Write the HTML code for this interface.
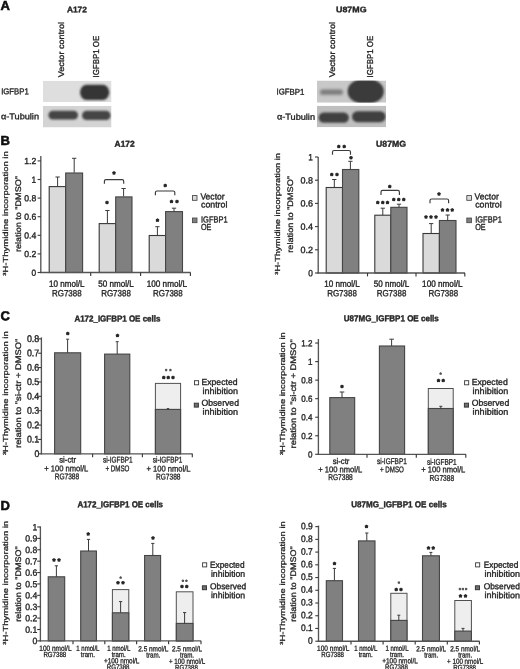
<!DOCTYPE html>
<html lang="en"><head><meta charset="utf-8"><title>Figure</title>
<style>
html,body{margin:0;padding:0;background:#fff;}
body{width:520px;height:669px;overflow:hidden;}
svg{display:block;font-family:"Liberation Sans", sans-serif;}
</style></head><body>
<svg width="520" height="669" viewBox="0 0 520 669" text-rendering="geometricPrecision">
<defs>
<filter id="b1" x="-20%" y="-40%" width="140%" height="180%"><feGaussianBlur stdDeviation="1"/></filter>
<filter id="b2" x="-20%" y="-60%" width="140%" height="220%"><feGaussianBlur stdDeviation="1.6"/></filter>
<filter id="soft"><feGaussianBlur stdDeviation="0.42"/></filter>
<clipPath id="cA1"><rect x="43" y="80.7" width="68.5" height="21.3"/></clipPath>
<clipPath id="cA2"><rect x="43" y="106" width="68.5" height="21.5"/></clipPath>
<clipPath id="cA3"><rect x="317" y="80.5" width="69" height="22.2"/></clipPath>
<clipPath id="cA4"><rect x="317" y="105.7" width="69" height="21.6"/></clipPath>
</defs>
<rect width="520" height="669" fill="#ffffff"/>
<g filter="url(#soft)">
<text transform="translate(0.50,9.95) rotate(0.1)" font-size="13.0" text-anchor="start" fill="#111" font-weight="bold" stroke="#111" stroke-width="0.58">A</text>
<text transform="translate(0.50,144.95) rotate(0.1)" font-size="13.0" text-anchor="start" fill="#111" font-weight="bold" stroke="#111" stroke-width="0.58">B</text>
<text transform="translate(0.50,320.35) rotate(0.1)" font-size="13.0" text-anchor="start" fill="#111" font-weight="bold" stroke="#111" stroke-width="0.58">C</text>
<text transform="translate(0.50,509.95) rotate(0.1)" font-size="13.0" text-anchor="start" fill="#111" font-weight="bold" stroke="#111" stroke-width="0.58">D</text>
<text transform="translate(76.90,12.16) rotate(0.1)" font-size="8.0" text-anchor="middle" fill="#262626" font-weight="bold" stroke="#262626" stroke-width="0.36" textLength="20" lengthAdjust="spacingAndGlyphs">A172</text>
<text transform="translate(61.50,49.60) rotate(-90)" x="0" y="2.94" font-size="8.2" text-anchor="middle" fill="#262626" stroke="#262626" stroke-width="0.33" textLength="55.3" lengthAdjust="spacingAndGlyphs">Vector control</text>
<text transform="translate(96.00,56.60) rotate(-90)" x="0" y="3.08" font-size="8.6" text-anchor="middle" fill="#262626" stroke="#262626" stroke-width="0.34" textLength="41.8" lengthAdjust="spacingAndGlyphs">IGFBP1 OE</text>
<g clip-path="url(#cA1)">
<rect x="43" y="80.7" width="68.5" height="21.299999999999997" fill="#dedede"/>
<rect x="80" y="84.7" width="29.30" height="15.20" rx="6.5" ry="7.60" fill="#363636" filter="url(#b1)"/>
</g>
<g clip-path="url(#cA2)">
<rect x="43" y="106" width="68.5" height="21.5" fill="#d4d4d4"/>
<rect x="48.4" y="110.8" width="29.60" height="8.60" rx="4.300000000000004" ry="4.30" fill="#444" filter="url(#b1)"/>
<rect x="82" y="110.8" width="28.60" height="9.20" rx="4.600000000000001" ry="4.60" fill="#444" filter="url(#b1)"/>
</g>
<text transform="translate(1.20,94.31) rotate(0.1)" font-size="8.4" text-anchor="start" fill="#262626" stroke="#262626" stroke-width="0.34" textLength="27.5" lengthAdjust="spacingAndGlyphs">IGFBP1</text>
<text transform="translate(1.00,119.31) rotate(0.1)" font-size="8.4" text-anchor="start" fill="#262626" stroke="#262626" stroke-width="0.34" textLength="38" lengthAdjust="spacingAndGlyphs">α-Tubulin</text>
<text transform="translate(351.30,12.16) rotate(0.1)" font-size="8.0" text-anchor="middle" fill="#262626" font-weight="bold" stroke="#262626" stroke-width="0.36" textLength="30.5" lengthAdjust="spacingAndGlyphs">U87MG</text>
<text transform="translate(332.20,49.60) rotate(-90)" x="0" y="2.94" font-size="8.2" text-anchor="middle" fill="#262626" stroke="#262626" stroke-width="0.33" textLength="55.3" lengthAdjust="spacingAndGlyphs">Vector control</text>
<text transform="translate(369.80,56.60) rotate(-90)" x="0" y="3.08" font-size="8.6" text-anchor="middle" fill="#262626" stroke="#262626" stroke-width="0.34" textLength="41.8" lengthAdjust="spacingAndGlyphs">IGFBP1 OE</text>
<g clip-path="url(#cA3)">
<rect x="317" y="80.5" width="69" height="22.200000000000003" fill="#c8c8c8"/>
<rect x="320" y="89.6" width="23.00" height="5.20" rx="2.6000000000000014" ry="2.60" fill="#7a7a7a" filter="url(#b2)"/>
<rect x="347.6" y="79.6" width="36.20" height="23.60" rx="14" ry="11.80" fill="#3a3a3a" filter="url(#b1)"/>
</g>
<g clip-path="url(#cA4)">
<rect x="317" y="105.7" width="69" height="21.599999999999994" fill="#bfbfbf"/>
<rect x="318.6" y="112.5" width="30.30" height="10.30" rx="5.149999999999999" ry="5.15" fill="#404040" filter="url(#b1)"/>
<rect x="352" y="111.2" width="33.60" height="11.00" rx="5.5" ry="5.50" fill="#404040" filter="url(#b1)"/>
</g>
<text transform="translate(276.50,94.61) rotate(0.1)" font-size="8.4" text-anchor="start" fill="#262626" stroke="#262626" stroke-width="0.34" textLength="28" lengthAdjust="spacingAndGlyphs">IGFBP1</text>
<text transform="translate(277.00,119.61) rotate(0.1)" font-size="8.4" text-anchor="start" fill="#262626" stroke="#262626" stroke-width="0.34" textLength="38" lengthAdjust="spacingAndGlyphs">α-Tubulin</text>
<text transform="translate(124.60,146.68) rotate(0.1)" font-size="8.6" text-anchor="middle" fill="#262626" font-weight="bold" stroke="#262626" stroke-width="0.39" textLength="20" lengthAdjust="spacingAndGlyphs">A172</text>
<rect x="49.20" y="186.60" width="16.50" height="85.90" fill="#dadada" stroke="#383838" stroke-width="1.1"/>
<rect x="65.70" y="173.00" width="16.90" height="99.50" fill="#808080" stroke="#444444" stroke-width="1.1"/>
<rect x="99.20" y="223.60" width="16.50" height="48.90" fill="#dadada" stroke="#383838" stroke-width="1.1"/>
<rect x="115.70" y="196.90" width="16.30" height="75.60" fill="#808080" stroke="#444444" stroke-width="1.1"/>
<rect x="149.20" y="235.50" width="16.40" height="37.00" fill="#dadada" stroke="#383838" stroke-width="1.1"/>
<rect x="165.60" y="211.60" width="16.90" height="60.90" fill="#808080" stroke="#444444" stroke-width="1.1"/>
<line x1="57.60" y1="186.20" x2="57.60" y2="177.00" stroke="#3a3a3a" stroke-width="1.0"/>
<line x1="55.45" y1="177.00" x2="59.75" y2="177.00" stroke="#3a3a3a" stroke-width="1.0"/>
<line x1="74.20" y1="172.60" x2="74.20" y2="158.30" stroke="#3a3a3a" stroke-width="1.0"/>
<line x1="72.05" y1="158.30" x2="76.35" y2="158.30" stroke="#3a3a3a" stroke-width="1.0"/>
<line x1="107.40" y1="223.00" x2="107.40" y2="210.50" stroke="#3a3a3a" stroke-width="1.0"/>
<line x1="105.25" y1="210.50" x2="109.55" y2="210.50" stroke="#3a3a3a" stroke-width="1.0"/>
<line x1="123.60" y1="196.40" x2="123.60" y2="188.50" stroke="#3a3a3a" stroke-width="1.0"/>
<line x1="121.45" y1="188.50" x2="125.75" y2="188.50" stroke="#3a3a3a" stroke-width="1.0"/>
<line x1="157.40" y1="235.00" x2="157.40" y2="226.70" stroke="#3a3a3a" stroke-width="1.0"/>
<line x1="155.25" y1="226.70" x2="159.55" y2="226.70" stroke="#3a3a3a" stroke-width="1.0"/>
<line x1="174.00" y1="211.00" x2="174.00" y2="208.20" stroke="#3a3a3a" stroke-width="1.0"/>
<line x1="171.85" y1="208.20" x2="176.15" y2="208.20" stroke="#3a3a3a" stroke-width="1.0"/>
<line x1="40.80" y1="156.00" x2="40.80" y2="273.10" stroke="#555555" stroke-width="1.35"/>
<line x1="40.20" y1="272.50" x2="190.60" y2="272.50" stroke="#555555" stroke-width="1.35"/>
<line x1="37.60" y1="272.50" x2="40.80" y2="272.50" stroke="#3a3a3a" stroke-width="1.1"/>
<text transform="translate(36.20,275.65) rotate(0.1)" font-size="8.8" text-anchor="end" fill="#262626" stroke="#262626" stroke-width="0.35" textLength="4.6" lengthAdjust="spacingAndGlyphs">0</text>
<line x1="37.60" y1="253.90" x2="40.80" y2="253.90" stroke="#3a3a3a" stroke-width="1.1"/>
<text transform="translate(36.20,257.05) rotate(0.1)" font-size="8.8" text-anchor="end" fill="#262626" stroke="#262626" stroke-width="0.35" textLength="12.0" lengthAdjust="spacingAndGlyphs">0.2</text>
<line x1="37.60" y1="235.30" x2="40.80" y2="235.30" stroke="#3a3a3a" stroke-width="1.1"/>
<text transform="translate(36.20,238.45) rotate(0.1)" font-size="8.8" text-anchor="end" fill="#262626" stroke="#262626" stroke-width="0.35" textLength="12.0" lengthAdjust="spacingAndGlyphs">0.4</text>
<line x1="37.60" y1="216.70" x2="40.80" y2="216.70" stroke="#3a3a3a" stroke-width="1.1"/>
<text transform="translate(36.20,219.85) rotate(0.1)" font-size="8.8" text-anchor="end" fill="#262626" stroke="#262626" stroke-width="0.35" textLength="12.0" lengthAdjust="spacingAndGlyphs">0.6</text>
<line x1="37.60" y1="198.10" x2="40.80" y2="198.10" stroke="#3a3a3a" stroke-width="1.1"/>
<text transform="translate(36.20,201.25) rotate(0.1)" font-size="8.8" text-anchor="end" fill="#262626" stroke="#262626" stroke-width="0.35" textLength="12.0" lengthAdjust="spacingAndGlyphs">0.8</text>
<line x1="37.60" y1="179.50" x2="40.80" y2="179.50" stroke="#3a3a3a" stroke-width="1.1"/>
<text transform="translate(36.20,182.65) rotate(0.1)" font-size="8.8" text-anchor="end" fill="#262626" stroke="#262626" stroke-width="0.35" textLength="4.6" lengthAdjust="spacingAndGlyphs">1</text>
<line x1="37.60" y1="160.90" x2="40.80" y2="160.90" stroke="#3a3a3a" stroke-width="1.1"/>
<text transform="translate(36.20,164.05) rotate(0.1)" font-size="8.8" text-anchor="end" fill="#262626" stroke="#262626" stroke-width="0.35" textLength="12.0" lengthAdjust="spacingAndGlyphs">1.2</text>
<line x1="90.70" y1="272.50" x2="90.70" y2="275.90" stroke="#3a3a3a" stroke-width="1.15"/>
<line x1="140.60" y1="272.50" x2="140.60" y2="275.90" stroke="#3a3a3a" stroke-width="1.15"/>
<line x1="190.40" y1="272.50" x2="190.40" y2="275.90" stroke="#3a3a3a" stroke-width="1.15"/>
<text transform="translate(5.40,213.50) rotate(-90)" x="0" y="2.61" font-size="7.3" text-anchor="middle" fill="#262626" stroke="#262626" stroke-width="0.29" textLength="124.4" lengthAdjust="spacingAndGlyphs">³H-Thymidine incorporation in</text>
<text transform="translate(18.00,214.00) rotate(-90)" x="0" y="2.90" font-size="8.1" text-anchor="middle" fill="#262626" stroke="#262626" stroke-width="0.32" textLength="76" lengthAdjust="spacingAndGlyphs">relation to "DMSO"</text>
<text transform="translate(107.00,206.15) rotate(0.1)" font-size="7.6" text-anchor="middle" font-weight="bold" fill="#262626" stroke="#262626" stroke-width="0.76" stroke-linejoin="round">*</text>
<text transform="translate(113.90,176.85) rotate(0.1)" font-size="7.6" text-anchor="middle" font-weight="bold" fill="#262626" stroke="#262626" stroke-width="0.76" stroke-linejoin="round">*</text>
<path d="M104.40,183.80 V181.20 Q104.40,179.60 106.00,179.60 H122.10 Q123.70,179.60 123.70,181.20 V183.80" fill="none" stroke="#3a3a3a" stroke-width="1.15"/>
<text transform="translate(157.50,223.95) rotate(0.1)" font-size="7.6" text-anchor="middle" font-weight="bold" fill="#262626" stroke="#262626" stroke-width="0.76" stroke-linejoin="round">*</text>
<text transform="translate(171.40,205.35) rotate(0.1)" font-size="7.6" text-anchor="middle" font-weight="bold" fill="#262626" stroke="#262626" stroke-width="0.76" stroke-linejoin="round">*</text>
<text transform="translate(177.00,205.35) rotate(0.1)" font-size="7.6" text-anchor="middle" font-weight="bold" fill="#262626" stroke="#262626" stroke-width="0.76" stroke-linejoin="round">*</text>
<path d="M155.40,195.20 V192.60 Q155.40,191.00 157.00,191.00 H173.20 Q174.80,191.00 174.80,192.60 V195.20" fill="none" stroke="#3a3a3a" stroke-width="1.15"/>
<text transform="translate(165.20,189.35) rotate(0.1)" font-size="7.6" text-anchor="middle" font-weight="bold" fill="#262626" stroke="#262626" stroke-width="0.76" stroke-linejoin="round">*</text>
<text transform="translate(66.80,286.72) rotate(0.1)" font-size="9.0" text-anchor="middle" fill="#262626" stroke="#262626" stroke-width="0.36" textLength="35.4" lengthAdjust="spacingAndGlyphs">10 nmol/L</text>
<text transform="translate(66.80,296.32) rotate(0.1)" font-size="9.0" text-anchor="middle" fill="#262626" stroke="#262626" stroke-width="0.36" textLength="29.6" lengthAdjust="spacingAndGlyphs">RG7388</text>
<text transform="translate(116.00,286.72) rotate(0.1)" font-size="9.0" text-anchor="middle" fill="#262626" stroke="#262626" stroke-width="0.36" textLength="35.4" lengthAdjust="spacingAndGlyphs">50 nmol/L</text>
<text transform="translate(116.00,296.32) rotate(0.1)" font-size="9.0" text-anchor="middle" fill="#262626" stroke="#262626" stroke-width="0.36" textLength="29.6" lengthAdjust="spacingAndGlyphs">RG7388</text>
<text transform="translate(166.90,286.72) rotate(0.1)" font-size="9.0" text-anchor="middle" fill="#262626" stroke="#262626" stroke-width="0.36" textLength="40.4" lengthAdjust="spacingAndGlyphs">100 nmol/L</text>
<text transform="translate(167.90,296.32) rotate(0.1)" font-size="9.0" text-anchor="middle" fill="#262626" stroke="#262626" stroke-width="0.36" textLength="29.6" lengthAdjust="spacingAndGlyphs">RG7388</text>
<rect x="192.40" y="195.60" width="4.60" height="4.70" fill="#dadada" stroke="#383838" stroke-width="0.8"/>
<text transform="translate(200.40,199.55) rotate(0.1)" font-size="8.8" text-anchor="start" fill="#262626" stroke="#262626" stroke-width="0.35" textLength="24.2" lengthAdjust="spacingAndGlyphs">Vector</text>
<text transform="translate(201.00,207.45) rotate(0.1)" font-size="8.8" text-anchor="start" fill="#262626" stroke="#262626" stroke-width="0.35" textLength="26.4" lengthAdjust="spacingAndGlyphs">control</text>
<rect x="192.40" y="218.00" width="4.60" height="4.70" fill="#808080" stroke="#444444" stroke-width="0.8"/>
<text transform="translate(201.00,222.55) rotate(0.1)" font-size="8.8" text-anchor="start" fill="#262626" stroke="#262626" stroke-width="0.35" textLength="26.6" lengthAdjust="spacingAndGlyphs">IGFBP1</text>
<text transform="translate(201.00,230.05) rotate(0.1)" font-size="8.8" text-anchor="start" fill="#262626" stroke="#262626" stroke-width="0.35" textLength="10.4" lengthAdjust="spacingAndGlyphs">OE</text>
<text transform="translate(391.00,146.68) rotate(0.1)" font-size="8.6" text-anchor="middle" fill="#262626" font-weight="bold" stroke="#262626" stroke-width="0.39" textLength="30" lengthAdjust="spacingAndGlyphs">U87MG</text>
<rect x="326.20" y="187.50" width="16.30" height="85.50" fill="#dadada" stroke="#383838" stroke-width="1.1"/>
<rect x="342.50" y="169.50" width="16.30" height="103.50" fill="#808080" stroke="#444444" stroke-width="1.1"/>
<rect x="374.80" y="215.20" width="16.00" height="57.80" fill="#dadada" stroke="#383838" stroke-width="1.1"/>
<rect x="390.80" y="207.30" width="16.20" height="65.70" fill="#808080" stroke="#444444" stroke-width="1.1"/>
<rect x="423.00" y="233.50" width="16.40" height="39.50" fill="#dadada" stroke="#383838" stroke-width="1.1"/>
<rect x="439.40" y="220.50" width="16.60" height="52.50" fill="#808080" stroke="#444444" stroke-width="1.1"/>
<line x1="334.30" y1="187.50" x2="334.30" y2="179.50" stroke="#3a3a3a" stroke-width="1.0"/>
<line x1="332.15" y1="179.50" x2="336.45" y2="179.50" stroke="#3a3a3a" stroke-width="1.0"/>
<line x1="350.40" y1="169.50" x2="350.40" y2="161.30" stroke="#3a3a3a" stroke-width="1.0"/>
<line x1="348.25" y1="161.30" x2="352.55" y2="161.30" stroke="#3a3a3a" stroke-width="1.0"/>
<line x1="382.80" y1="215.20" x2="382.80" y2="208.20" stroke="#3a3a3a" stroke-width="1.0"/>
<line x1="380.65" y1="208.20" x2="384.95" y2="208.20" stroke="#3a3a3a" stroke-width="1.0"/>
<line x1="399.00" y1="207.30" x2="399.00" y2="204.20" stroke="#3a3a3a" stroke-width="1.0"/>
<line x1="396.85" y1="204.20" x2="401.15" y2="204.20" stroke="#3a3a3a" stroke-width="1.0"/>
<line x1="431.20" y1="233.50" x2="431.20" y2="223.60" stroke="#3a3a3a" stroke-width="1.0"/>
<line x1="429.05" y1="223.60" x2="433.35" y2="223.60" stroke="#3a3a3a" stroke-width="1.0"/>
<line x1="447.70" y1="220.50" x2="447.70" y2="215.00" stroke="#3a3a3a" stroke-width="1.0"/>
<line x1="445.55" y1="215.00" x2="449.85" y2="215.00" stroke="#3a3a3a" stroke-width="1.0"/>
<line x1="318.20" y1="157.00" x2="318.20" y2="273.60" stroke="#555555" stroke-width="1.35"/>
<line x1="317.60" y1="273.00" x2="465.00" y2="273.00" stroke="#555555" stroke-width="1.35"/>
<line x1="315.00" y1="273.00" x2="318.20" y2="273.00" stroke="#3a3a3a" stroke-width="1.1"/>
<text transform="translate(312.90,276.22) rotate(0.1)" font-size="9.0" text-anchor="end" fill="#262626" stroke="#262626" stroke-width="0.36" textLength="4.6" lengthAdjust="spacingAndGlyphs">0</text>
<line x1="315.00" y1="249.80" x2="318.20" y2="249.80" stroke="#3a3a3a" stroke-width="1.1"/>
<text transform="translate(312.90,253.02) rotate(0.1)" font-size="9.0" text-anchor="end" fill="#262626" stroke="#262626" stroke-width="0.36" textLength="12.5" lengthAdjust="spacingAndGlyphs">0.2</text>
<line x1="315.00" y1="226.60" x2="318.20" y2="226.60" stroke="#3a3a3a" stroke-width="1.1"/>
<text transform="translate(312.90,229.82) rotate(0.1)" font-size="9.0" text-anchor="end" fill="#262626" stroke="#262626" stroke-width="0.36" textLength="12.5" lengthAdjust="spacingAndGlyphs">0.4</text>
<line x1="315.00" y1="203.40" x2="318.20" y2="203.40" stroke="#3a3a3a" stroke-width="1.1"/>
<text transform="translate(312.90,206.62) rotate(0.1)" font-size="9.0" text-anchor="end" fill="#262626" stroke="#262626" stroke-width="0.36" textLength="12.5" lengthAdjust="spacingAndGlyphs">0.6</text>
<line x1="315.00" y1="180.20" x2="318.20" y2="180.20" stroke="#3a3a3a" stroke-width="1.1"/>
<text transform="translate(312.90,183.42) rotate(0.1)" font-size="9.0" text-anchor="end" fill="#262626" stroke="#262626" stroke-width="0.36" textLength="12.5" lengthAdjust="spacingAndGlyphs">0.8</text>
<line x1="315.00" y1="157.00" x2="318.20" y2="157.00" stroke="#3a3a3a" stroke-width="1.1"/>
<text transform="translate(312.90,160.22) rotate(0.1)" font-size="9.0" text-anchor="end" fill="#262626" stroke="#262626" stroke-width="0.36" textLength="4.6" lengthAdjust="spacingAndGlyphs">1</text>
<line x1="367.50" y1="273.00" x2="367.50" y2="276.40" stroke="#3a3a3a" stroke-width="1.15"/>
<line x1="416.00" y1="273.00" x2="416.00" y2="276.40" stroke="#3a3a3a" stroke-width="1.15"/>
<line x1="464.80" y1="273.00" x2="464.80" y2="276.40" stroke="#3a3a3a" stroke-width="1.15"/>
<text transform="translate(277.50,213.85) rotate(-90)" x="0" y="2.61" font-size="7.3" text-anchor="middle" fill="#262626" stroke="#262626" stroke-width="0.29" textLength="121.7" lengthAdjust="spacingAndGlyphs">³H-Thymidine incorporation in</text>
<text transform="translate(289.90,214.35) rotate(-90)" x="0" y="2.90" font-size="8.1" text-anchor="middle" fill="#262626" stroke="#262626" stroke-width="0.32" textLength="76.7" lengthAdjust="spacingAndGlyphs">relation to "DMSO"</text>
<text transform="translate(331.80,178.35) rotate(0.1)" font-size="7.6" text-anchor="middle" font-weight="bold" fill="#262626" stroke="#262626" stroke-width="0.76" stroke-linejoin="round">*</text>
<text transform="translate(337.00,178.35) rotate(0.1)" font-size="7.6" text-anchor="middle" font-weight="bold" fill="#262626" stroke="#262626" stroke-width="0.76" stroke-linejoin="round">*</text>
<text transform="translate(351.00,161.55) rotate(0.1)" font-size="7.6" text-anchor="middle" font-weight="bold" fill="#262626" stroke="#262626" stroke-width="0.76" stroke-linejoin="round">*</text>
<path d="M332.50,154.70 V152.10 Q332.50,150.50 334.10,150.50 H348.90 Q350.50,150.50 350.50,152.10 V154.70" fill="none" stroke="#3a3a3a" stroke-width="1.15"/>
<text transform="translate(338.80,150.35) rotate(0.1)" font-size="7.6" text-anchor="middle" font-weight="bold" fill="#262626" stroke="#262626" stroke-width="0.76" stroke-linejoin="round">*</text>
<text transform="translate(344.20,150.35) rotate(0.1)" font-size="7.6" text-anchor="middle" font-weight="bold" fill="#262626" stroke="#262626" stroke-width="0.76" stroke-linejoin="round">*</text>
<text transform="translate(377.70,206.25) rotate(0.1)" font-size="7.6" text-anchor="middle" font-weight="bold" fill="#262626" stroke="#262626" stroke-width="0.76" stroke-linejoin="round">*</text>
<text transform="translate(382.70,206.25) rotate(0.1)" font-size="7.6" text-anchor="middle" font-weight="bold" fill="#262626" stroke="#262626" stroke-width="0.76" stroke-linejoin="round">*</text>
<text transform="translate(387.60,206.25) rotate(0.1)" font-size="7.6" text-anchor="middle" font-weight="bold" fill="#262626" stroke="#262626" stroke-width="0.76" stroke-linejoin="round">*</text>
<text transform="translate(393.80,203.35) rotate(0.1)" font-size="7.6" text-anchor="middle" font-weight="bold" fill="#262626" stroke="#262626" stroke-width="0.76" stroke-linejoin="round">*</text>
<text transform="translate(398.80,203.35) rotate(0.1)" font-size="7.6" text-anchor="middle" font-weight="bold" fill="#262626" stroke="#262626" stroke-width="0.76" stroke-linejoin="round">*</text>
<text transform="translate(403.70,203.35) rotate(0.1)" font-size="7.6" text-anchor="middle" font-weight="bold" fill="#262626" stroke="#262626" stroke-width="0.76" stroke-linejoin="round">*</text>
<path d="M381.00,195.00 V192.00 Q381.00,190.40 382.60,190.40 H397.80 Q399.40,190.40 399.40,192.00 V195.00" fill="none" stroke="#3a3a3a" stroke-width="1.15"/>
<text transform="translate(389.80,190.15) rotate(0.1)" font-size="7.6" text-anchor="middle" font-weight="bold" fill="#262626" stroke="#262626" stroke-width="0.76" stroke-linejoin="round">*</text>
<text transform="translate(426.00,220.85) rotate(0.1)" font-size="7.6" text-anchor="middle" font-weight="bold" fill="#262626" stroke="#262626" stroke-width="0.76" stroke-linejoin="round">*</text>
<text transform="translate(431.00,220.85) rotate(0.1)" font-size="7.6" text-anchor="middle" font-weight="bold" fill="#262626" stroke="#262626" stroke-width="0.76" stroke-linejoin="round">*</text>
<text transform="translate(436.00,220.85) rotate(0.1)" font-size="7.6" text-anchor="middle" font-weight="bold" fill="#262626" stroke="#262626" stroke-width="0.76" stroke-linejoin="round">*</text>
<text transform="translate(442.50,213.85) rotate(0.1)" font-size="7.6" text-anchor="middle" font-weight="bold" fill="#262626" stroke="#262626" stroke-width="0.76" stroke-linejoin="round">*</text>
<text transform="translate(447.40,213.85) rotate(0.1)" font-size="7.6" text-anchor="middle" font-weight="bold" fill="#262626" stroke="#262626" stroke-width="0.76" stroke-linejoin="round">*</text>
<text transform="translate(452.30,213.85) rotate(0.1)" font-size="7.6" text-anchor="middle" font-weight="bold" fill="#262626" stroke="#262626" stroke-width="0.76" stroke-linejoin="round">*</text>
<path d="M430.00,203.30 V200.60 Q430.00,199.00 431.60,199.00 H447.00 Q448.60,199.00 448.60,200.60 V203.30" fill="none" stroke="#3a3a3a" stroke-width="1.15"/>
<text transform="translate(439.00,197.85) rotate(0.1)" font-size="7.6" text-anchor="middle" font-weight="bold" fill="#262626" stroke="#262626" stroke-width="0.76" stroke-linejoin="round">*</text>
<text transform="translate(342.00,286.72) rotate(0.1)" font-size="9.0" text-anchor="middle" fill="#262626" stroke="#262626" stroke-width="0.36" textLength="35.4" lengthAdjust="spacingAndGlyphs">10 nmol/L</text>
<text transform="translate(342.00,296.32) rotate(0.1)" font-size="9.0" text-anchor="middle" fill="#262626" stroke="#262626" stroke-width="0.36" textLength="29.6" lengthAdjust="spacingAndGlyphs">RG7388</text>
<text transform="translate(391.50,286.72) rotate(0.1)" font-size="9.0" text-anchor="middle" fill="#262626" stroke="#262626" stroke-width="0.36" textLength="35.4" lengthAdjust="spacingAndGlyphs">50 nmol/L</text>
<text transform="translate(391.50,296.32) rotate(0.1)" font-size="9.0" text-anchor="middle" fill="#262626" stroke="#262626" stroke-width="0.36" textLength="29.6" lengthAdjust="spacingAndGlyphs">RG7388</text>
<text transform="translate(442.30,286.72) rotate(0.1)" font-size="9.0" text-anchor="middle" fill="#262626" stroke="#262626" stroke-width="0.36" textLength="40.4" lengthAdjust="spacingAndGlyphs">100 nmol/L</text>
<text transform="translate(443.30,296.32) rotate(0.1)" font-size="9.0" text-anchor="middle" fill="#262626" stroke="#262626" stroke-width="0.36" textLength="29.6" lengthAdjust="spacingAndGlyphs">RG7388</text>
<rect x="466.80" y="195.60" width="4.60" height="4.70" fill="#dadada" stroke="#383838" stroke-width="0.8"/>
<text transform="translate(474.60,199.55) rotate(0.1)" font-size="8.8" text-anchor="start" fill="#262626" stroke="#262626" stroke-width="0.35" textLength="24.2" lengthAdjust="spacingAndGlyphs">Vector</text>
<text transform="translate(475.20,207.45) rotate(0.1)" font-size="8.8" text-anchor="start" fill="#262626" stroke="#262626" stroke-width="0.35" textLength="26.4" lengthAdjust="spacingAndGlyphs">control</text>
<rect x="466.80" y="218.00" width="4.60" height="4.70" fill="#808080" stroke="#444444" stroke-width="0.8"/>
<text transform="translate(475.20,222.55) rotate(0.1)" font-size="8.8" text-anchor="start" fill="#262626" stroke="#262626" stroke-width="0.35" textLength="26.6" lengthAdjust="spacingAndGlyphs">IGFBP1</text>
<text transform="translate(475.20,230.05) rotate(0.1)" font-size="8.8" text-anchor="start" fill="#262626" stroke="#262626" stroke-width="0.35" textLength="10.4" lengthAdjust="spacingAndGlyphs">OE</text>
<text transform="translate(117.40,321.48) rotate(0.1)" font-size="8.6" text-anchor="middle" fill="#262626" font-weight="bold" stroke="#262626" stroke-width="0.39" textLength="86" lengthAdjust="spacingAndGlyphs">A172_IGFBP1 OE cells</text>
<rect x="54.60" y="352.80" width="26.10" height="101.00" fill="#808080" stroke="#444444" stroke-width="1.1"/>
<rect x="104.60" y="354.10" width="25.20" height="99.70" fill="#808080" stroke="#444444" stroke-width="1.1"/>
<rect x="155.40" y="383.40" width="25.20" height="70.40" fill="#eeeeee" stroke="#505050" stroke-width="1.0"/>
<rect x="155.40" y="409.40" width="25.20" height="44.40" fill="#808080" stroke="#444444" stroke-width="1.1"/>
<line x1="67.60" y1="352.80" x2="67.60" y2="339.20" stroke="#3a3a3a" stroke-width="1.0"/>
<line x1="66.10" y1="339.20" x2="69.10" y2="339.20" stroke="#3a3a3a" stroke-width="1.0"/>
<line x1="117.20" y1="354.10" x2="117.20" y2="341.70" stroke="#3a3a3a" stroke-width="1.0"/>
<line x1="115.70" y1="341.70" x2="118.70" y2="341.70" stroke="#3a3a3a" stroke-width="1.0"/>
<line x1="168.00" y1="409.40" x2="168.00" y2="408.60" stroke="#3a3a3a" stroke-width="1.0"/>
<line x1="166.80" y1="408.60" x2="169.20" y2="408.60" stroke="#3a3a3a" stroke-width="1.0"/>
<line x1="41.40" y1="337.40" x2="41.40" y2="454.40" stroke="#555555" stroke-width="1.35"/>
<line x1="40.80" y1="453.80" x2="192.50" y2="453.80" stroke="#555555" stroke-width="1.35"/>
<line x1="38.20" y1="453.80" x2="41.40" y2="453.80" stroke="#3a3a3a" stroke-width="1.1"/>
<text transform="translate(39.20,456.94) rotate(0.1)" font-size="9.6" text-anchor="end" fill="#262626" stroke="#262626" stroke-width="0.38" textLength="4.8" lengthAdjust="spacingAndGlyphs">0</text>
<line x1="38.20" y1="439.43" x2="41.40" y2="439.43" stroke="#3a3a3a" stroke-width="1.1"/>
<text transform="translate(39.20,442.57) rotate(0.1)" font-size="9.6" text-anchor="end" fill="#262626" stroke="#262626" stroke-width="0.38" textLength="12.3" lengthAdjust="spacingAndGlyphs">0.1</text>
<line x1="38.20" y1="425.06" x2="41.40" y2="425.06" stroke="#3a3a3a" stroke-width="1.1"/>
<text transform="translate(39.20,428.20) rotate(0.1)" font-size="9.6" text-anchor="end" fill="#262626" stroke="#262626" stroke-width="0.38" textLength="12.3" lengthAdjust="spacingAndGlyphs">0.2</text>
<line x1="38.20" y1="410.69" x2="41.40" y2="410.69" stroke="#3a3a3a" stroke-width="1.1"/>
<text transform="translate(39.20,413.83) rotate(0.1)" font-size="9.6" text-anchor="end" fill="#262626" stroke="#262626" stroke-width="0.38" textLength="12.3" lengthAdjust="spacingAndGlyphs">0.3</text>
<line x1="38.20" y1="396.32" x2="41.40" y2="396.32" stroke="#3a3a3a" stroke-width="1.1"/>
<text transform="translate(39.20,399.46) rotate(0.1)" font-size="9.6" text-anchor="end" fill="#262626" stroke="#262626" stroke-width="0.38" textLength="12.3" lengthAdjust="spacingAndGlyphs">0.4</text>
<line x1="38.20" y1="381.95" x2="41.40" y2="381.95" stroke="#3a3a3a" stroke-width="1.1"/>
<text transform="translate(39.20,385.09) rotate(0.1)" font-size="9.6" text-anchor="end" fill="#262626" stroke="#262626" stroke-width="0.38" textLength="12.3" lengthAdjust="spacingAndGlyphs">0.5</text>
<line x1="38.20" y1="367.58" x2="41.40" y2="367.58" stroke="#3a3a3a" stroke-width="1.1"/>
<text transform="translate(39.20,370.72) rotate(0.1)" font-size="9.6" text-anchor="end" fill="#262626" stroke="#262626" stroke-width="0.38" textLength="12.3" lengthAdjust="spacingAndGlyphs">0.6</text>
<line x1="38.20" y1="353.21" x2="41.40" y2="353.21" stroke="#3a3a3a" stroke-width="1.1"/>
<text transform="translate(39.20,356.35) rotate(0.1)" font-size="9.6" text-anchor="end" fill="#262626" stroke="#262626" stroke-width="0.38" textLength="12.3" lengthAdjust="spacingAndGlyphs">0.7</text>
<line x1="38.20" y1="338.84" x2="41.40" y2="338.84" stroke="#3a3a3a" stroke-width="1.1"/>
<text transform="translate(39.20,341.98) rotate(0.1)" font-size="9.6" text-anchor="end" fill="#262626" stroke="#262626" stroke-width="0.38" textLength="12.3" lengthAdjust="spacingAndGlyphs">0.8</text>
<line x1="92.60" y1="453.80" x2="92.60" y2="457.20" stroke="#3a3a3a" stroke-width="1.15"/>
<line x1="142.40" y1="453.80" x2="142.40" y2="457.20" stroke="#3a3a3a" stroke-width="1.15"/>
<line x1="192.30" y1="453.80" x2="192.30" y2="457.20" stroke="#3a3a3a" stroke-width="1.15"/>
<text transform="translate(5.40,393.20) rotate(-90)" x="0" y="2.61" font-size="7.3" text-anchor="middle" fill="#262626" stroke="#262626" stroke-width="0.29" textLength="123.8" lengthAdjust="spacingAndGlyphs">³H-Thymidine incorporation in</text>
<text transform="translate(18.00,393.30) rotate(-90)" x="0" y="2.90" font-size="8.1" text-anchor="middle" fill="#262626" stroke="#262626" stroke-width="0.32" textLength="109.4" lengthAdjust="spacingAndGlyphs">relation to "si-ctr + DMSO"</text>
<text transform="translate(67.70,337.15) rotate(0.1)" font-size="7.6" text-anchor="middle" font-weight="bold" fill="#262626" stroke="#262626" stroke-width="0.76" stroke-linejoin="round">*</text>
<text transform="translate(117.40,339.25) rotate(0.1)" font-size="7.6" text-anchor="middle" font-weight="bold" fill="#262626" stroke="#262626" stroke-width="0.76" stroke-linejoin="round">*</text>
<text transform="translate(163.70,381.15) rotate(0.1)" font-size="7.6" text-anchor="middle" font-weight="bold" fill="#262626" stroke="#262626" stroke-width="0.76" stroke-linejoin="round">*</text>
<text transform="translate(168.30,381.15) rotate(0.1)" font-size="7.6" text-anchor="middle" font-weight="bold" fill="#262626" stroke="#262626" stroke-width="0.76" stroke-linejoin="round">*</text>
<text transform="translate(173.00,381.15) rotate(0.1)" font-size="7.6" text-anchor="middle" font-weight="bold" fill="#262626" stroke="#262626" stroke-width="0.76" stroke-linejoin="round">*</text>
<text transform="translate(166.00,372.98) rotate(0.1)" font-size="5.8" text-anchor="middle" font-weight="bold" fill="#4a4a4a" stroke="#4a4a4a" stroke-width="0.35" stroke-linejoin="round">*</text>
<text transform="translate(170.40,372.98) rotate(0.1)" font-size="5.8" text-anchor="middle" font-weight="bold" fill="#4a4a4a" stroke="#4a4a4a" stroke-width="0.35" stroke-linejoin="round">*</text>
<text transform="translate(67.60,462.47) rotate(0.1)" font-size="8.3" text-anchor="middle" fill="#262626" stroke="#262626" stroke-width="0.33" textLength="16.7" lengthAdjust="spacingAndGlyphs">si-ctr</text>
<text transform="translate(66.20,471.27) rotate(0.1)" font-size="8.3" text-anchor="middle" fill="#262626" stroke="#262626" stroke-width="0.33" textLength="44" lengthAdjust="spacingAndGlyphs">+ 100 nmol/L</text>
<text transform="translate(66.90,479.27) rotate(0.1)" font-size="8.3" text-anchor="middle" fill="#262626" stroke="#262626" stroke-width="0.33" textLength="24.5" lengthAdjust="spacingAndGlyphs">RG7388</text>
<text transform="translate(117.80,462.47) rotate(0.1)" font-size="8.3" text-anchor="middle" fill="#262626" stroke="#262626" stroke-width="0.33" textLength="29.7" lengthAdjust="spacingAndGlyphs">si-IGFBP1</text>
<text transform="translate(117.40,471.27) rotate(0.1)" font-size="8.3" text-anchor="middle" fill="#262626" stroke="#262626" stroke-width="0.33" textLength="24" lengthAdjust="spacingAndGlyphs">+ DMSO</text>
<text transform="translate(167.60,462.47) rotate(0.1)" font-size="8.3" text-anchor="middle" fill="#262626" stroke="#262626" stroke-width="0.33" textLength="29.7" lengthAdjust="spacingAndGlyphs">si-IGFBP1</text>
<text transform="translate(168.50,471.47) rotate(0.1)" font-size="8.3" text-anchor="middle" fill="#262626" stroke="#262626" stroke-width="0.33" textLength="44" lengthAdjust="spacingAndGlyphs">+ 100 nmol/L</text>
<text transform="translate(168.20,479.57) rotate(0.1)" font-size="8.3" text-anchor="middle" fill="#262626" stroke="#262626" stroke-width="0.33" textLength="24.5" lengthAdjust="spacingAndGlyphs">RG7388</text>
<rect x="194.50" y="380.70" width="4.10" height="4.10" fill="#fdfdfd" stroke="#383838" stroke-width="0.9"/>
<text transform="translate(201.50,384.91) rotate(0.1)" font-size="8.7" text-anchor="start" fill="#262626" stroke="#262626" stroke-width="0.35" textLength="36" lengthAdjust="spacingAndGlyphs">Expected</text>
<text transform="translate(202.40,393.91) rotate(0.1)" font-size="8.7" text-anchor="start" fill="#262626" stroke="#262626" stroke-width="0.35" textLength="35.6" lengthAdjust="spacingAndGlyphs">inhibition</text>
<rect x="194.30" y="403.20" width="4.10" height="3.90" fill="#707070" stroke="#383838" stroke-width="1.0"/>
<text transform="translate(201.50,405.81) rotate(0.1)" font-size="8.7" text-anchor="start" fill="#262626" stroke="#262626" stroke-width="0.35" textLength="37.5" lengthAdjust="spacingAndGlyphs">Observed</text>
<text transform="translate(202.40,414.61) rotate(0.1)" font-size="8.7" text-anchor="start" fill="#262626" stroke="#262626" stroke-width="0.35" textLength="35.6" lengthAdjust="spacingAndGlyphs">inhibition</text>
<text transform="translate(391.30,321.28) rotate(0.1)" font-size="8.6" text-anchor="middle" fill="#262626" font-weight="bold" stroke="#262626" stroke-width="0.39" textLength="95" lengthAdjust="spacingAndGlyphs">U87MG_IGFBP1 OE cells</text>
<rect x="329.80" y="397.60" width="24.90" height="56.70" fill="#808080" stroke="#444444" stroke-width="1.1"/>
<rect x="379.40" y="346.00" width="25.20" height="108.30" fill="#808080" stroke="#444444" stroke-width="1.1"/>
<rect x="428.30" y="388.50" width="24.90" height="65.80" fill="#eeeeee" stroke="#505050" stroke-width="1.0"/>
<rect x="428.30" y="408.50" width="24.90" height="45.80" fill="#808080" stroke="#444444" stroke-width="1.1"/>
<line x1="342.00" y1="397.60" x2="342.00" y2="392.00" stroke="#3a3a3a" stroke-width="1.0"/>
<line x1="339.70" y1="392.00" x2="344.30" y2="392.00" stroke="#3a3a3a" stroke-width="1.0"/>
<line x1="391.60" y1="346.00" x2="391.60" y2="339.20" stroke="#3a3a3a" stroke-width="1.0"/>
<line x1="389.30" y1="339.20" x2="393.90" y2="339.20" stroke="#3a3a3a" stroke-width="1.0"/>
<line x1="440.80" y1="408.50" x2="440.80" y2="406.30" stroke="#3a3a3a" stroke-width="1.0"/>
<line x1="439.30" y1="406.30" x2="442.30" y2="406.30" stroke="#3a3a3a" stroke-width="1.0"/>
<line x1="318.40" y1="339.00" x2="318.40" y2="454.90" stroke="#555555" stroke-width="1.35"/>
<line x1="317.80" y1="454.30" x2="466.00" y2="454.30" stroke="#555555" stroke-width="1.35"/>
<line x1="315.20" y1="454.30" x2="318.40" y2="454.30" stroke="#3a3a3a" stroke-width="1.1"/>
<text transform="translate(312.50,457.45) rotate(0.1)" font-size="8.8" text-anchor="end" fill="#262626" stroke="#262626" stroke-width="0.35" textLength="4.5" lengthAdjust="spacingAndGlyphs">0</text>
<line x1="315.20" y1="435.76" x2="318.40" y2="435.76" stroke="#3a3a3a" stroke-width="1.1"/>
<text transform="translate(312.50,438.91) rotate(0.1)" font-size="8.8" text-anchor="end" fill="#262626" stroke="#262626" stroke-width="0.35" textLength="11.2" lengthAdjust="spacingAndGlyphs">0.2</text>
<line x1="315.20" y1="417.22" x2="318.40" y2="417.22" stroke="#3a3a3a" stroke-width="1.1"/>
<text transform="translate(312.50,420.37) rotate(0.1)" font-size="8.8" text-anchor="end" fill="#262626" stroke="#262626" stroke-width="0.35" textLength="11.2" lengthAdjust="spacingAndGlyphs">0.4</text>
<line x1="315.20" y1="398.68" x2="318.40" y2="398.68" stroke="#3a3a3a" stroke-width="1.1"/>
<text transform="translate(312.50,401.83) rotate(0.1)" font-size="8.8" text-anchor="end" fill="#262626" stroke="#262626" stroke-width="0.35" textLength="11.2" lengthAdjust="spacingAndGlyphs">0.6</text>
<line x1="315.20" y1="380.14" x2="318.40" y2="380.14" stroke="#3a3a3a" stroke-width="1.1"/>
<text transform="translate(312.50,383.29) rotate(0.1)" font-size="8.8" text-anchor="end" fill="#262626" stroke="#262626" stroke-width="0.35" textLength="11.2" lengthAdjust="spacingAndGlyphs">0.8</text>
<line x1="315.20" y1="361.60" x2="318.40" y2="361.60" stroke="#3a3a3a" stroke-width="1.1"/>
<text transform="translate(312.50,364.75) rotate(0.1)" font-size="8.8" text-anchor="end" fill="#262626" stroke="#262626" stroke-width="0.35" textLength="4.5" lengthAdjust="spacingAndGlyphs">1</text>
<line x1="315.20" y1="343.06" x2="318.40" y2="343.06" stroke="#3a3a3a" stroke-width="1.1"/>
<text transform="translate(312.50,346.21) rotate(0.1)" font-size="8.8" text-anchor="end" fill="#262626" stroke="#262626" stroke-width="0.35" textLength="11.2" lengthAdjust="spacingAndGlyphs">1.2</text>
<line x1="367.00" y1="454.30" x2="367.00" y2="457.70" stroke="#3a3a3a" stroke-width="1.15"/>
<line x1="416.30" y1="454.30" x2="416.30" y2="457.70" stroke="#3a3a3a" stroke-width="1.15"/>
<line x1="465.80" y1="454.30" x2="465.80" y2="457.70" stroke="#3a3a3a" stroke-width="1.15"/>
<text transform="translate(281.90,393.70) rotate(-90)" x="0" y="2.61" font-size="7.3" text-anchor="middle" fill="#262626" stroke="#262626" stroke-width="0.29" textLength="122.8" lengthAdjust="spacingAndGlyphs">³H-Thymidine incorporation in</text>
<text transform="translate(293.50,393.80) rotate(-90)" x="0" y="2.90" font-size="8.1" text-anchor="middle" fill="#262626" stroke="#262626" stroke-width="0.32" textLength="109.2" lengthAdjust="spacingAndGlyphs">relation to "si-ctr + DMSO"</text>
<text transform="translate(342.00,390.35) rotate(0.1)" font-size="7.6" text-anchor="middle" font-weight="bold" fill="#262626" stroke="#262626" stroke-width="0.76" stroke-linejoin="round">*</text>
<text transform="translate(438.50,384.35) rotate(0.1)" font-size="7.6" text-anchor="middle" font-weight="bold" fill="#262626" stroke="#262626" stroke-width="0.76" stroke-linejoin="round">*</text>
<text transform="translate(443.20,384.35) rotate(0.1)" font-size="7.6" text-anchor="middle" font-weight="bold" fill="#262626" stroke="#262626" stroke-width="0.76" stroke-linejoin="round">*</text>
<text transform="translate(440.70,376.38) rotate(0.1)" font-size="5.8" text-anchor="middle" font-weight="bold" fill="#4a4a4a" stroke="#4a4a4a" stroke-width="0.35" stroke-linejoin="round">*</text>
<text transform="translate(341.00,464.07) rotate(0.1)" font-size="8.3" text-anchor="middle" fill="#262626" stroke="#262626" stroke-width="0.33" textLength="16.7" lengthAdjust="spacingAndGlyphs">si-ctr</text>
<text transform="translate(340.30,472.17) rotate(0.1)" font-size="8.3" text-anchor="middle" fill="#262626" stroke="#262626" stroke-width="0.33" textLength="44" lengthAdjust="spacingAndGlyphs">+ 100 nmol/L</text>
<text transform="translate(340.50,480.07) rotate(0.1)" font-size="8.3" text-anchor="middle" fill="#262626" stroke="#262626" stroke-width="0.33" textLength="24.5" lengthAdjust="spacingAndGlyphs">RG7388</text>
<text transform="translate(391.90,464.07) rotate(0.1)" font-size="8.3" text-anchor="middle" fill="#262626" stroke="#262626" stroke-width="0.33" textLength="29.7" lengthAdjust="spacingAndGlyphs">si-IGFBP1</text>
<text transform="translate(391.90,472.17) rotate(0.1)" font-size="8.3" text-anchor="middle" fill="#262626" stroke="#262626" stroke-width="0.33" textLength="24" lengthAdjust="spacingAndGlyphs">+ DMSO</text>
<text transform="translate(441.80,464.77) rotate(0.1)" font-size="8.3" text-anchor="middle" fill="#262626" stroke="#262626" stroke-width="0.33" textLength="29.7" lengthAdjust="spacingAndGlyphs">si-IGFBP1</text>
<text transform="translate(443.30,472.27) rotate(0.1)" font-size="8.3" text-anchor="middle" fill="#262626" stroke="#262626" stroke-width="0.33" textLength="44" lengthAdjust="spacingAndGlyphs">+ 100 nmol/L</text>
<text transform="translate(441.80,480.87) rotate(0.1)" font-size="8.3" text-anchor="middle" fill="#262626" stroke="#262626" stroke-width="0.33" textLength="24.5" lengthAdjust="spacingAndGlyphs">RG7388</text>
<rect x="464.60" y="380.70" width="4.10" height="4.10" fill="#fdfdfd" stroke="#383838" stroke-width="0.9"/>
<text transform="translate(471.70,384.91) rotate(0.1)" font-size="8.7" text-anchor="start" fill="#262626" stroke="#262626" stroke-width="0.35" textLength="36" lengthAdjust="spacingAndGlyphs">Expected</text>
<text transform="translate(472.60,393.91) rotate(0.1)" font-size="8.7" text-anchor="start" fill="#262626" stroke="#262626" stroke-width="0.35" textLength="35.6" lengthAdjust="spacingAndGlyphs">inhibition</text>
<rect x="464.40" y="403.20" width="4.10" height="3.90" fill="#707070" stroke="#383838" stroke-width="1.0"/>
<text transform="translate(471.70,405.81) rotate(0.1)" font-size="8.7" text-anchor="start" fill="#262626" stroke="#262626" stroke-width="0.35" textLength="37.5" lengthAdjust="spacingAndGlyphs">Observed</text>
<text transform="translate(472.60,414.61) rotate(0.1)" font-size="8.7" text-anchor="start" fill="#262626" stroke="#262626" stroke-width="0.35" textLength="35.6" lengthAdjust="spacingAndGlyphs">inhibition</text>
<text transform="translate(120.20,507.28) rotate(0.1)" font-size="8.6" text-anchor="middle" fill="#262626" font-weight="bold" stroke="#262626" stroke-width="0.39" textLength="85.6" lengthAdjust="spacingAndGlyphs">A172_IGFBP1 OE cells</text>
<rect x="48.20" y="576.80" width="16.50" height="64.10" fill="#808080" stroke="#444444" stroke-width="1.1"/>
<rect x="80.70" y="551.00" width="15.70" height="89.90" fill="#808080" stroke="#444444" stroke-width="1.1"/>
<rect x="112.40" y="589.60" width="16.40" height="51.30" fill="#eeeeee" stroke="#505050" stroke-width="1.0"/>
<rect x="112.40" y="612.80" width="16.40" height="28.10" fill="#808080" stroke="#444444" stroke-width="1.1"/>
<rect x="144.60" y="555.50" width="16.00" height="85.40" fill="#808080" stroke="#444444" stroke-width="1.1"/>
<rect x="176.30" y="591.80" width="16.70" height="49.10" fill="#eeeeee" stroke="#505050" stroke-width="1.0"/>
<rect x="176.30" y="623.40" width="16.70" height="17.50" fill="#808080" stroke="#444444" stroke-width="1.1"/>
<line x1="56.40" y1="576.80" x2="56.40" y2="565.80" stroke="#3a3a3a" stroke-width="1.0"/>
<line x1="54.80" y1="565.80" x2="58.00" y2="565.80" stroke="#3a3a3a" stroke-width="1.0"/>
<line x1="88.50" y1="551.00" x2="88.50" y2="539.40" stroke="#3a3a3a" stroke-width="1.0"/>
<line x1="86.90" y1="539.40" x2="90.10" y2="539.40" stroke="#3a3a3a" stroke-width="1.0"/>
<line x1="120.60" y1="612.80" x2="120.60" y2="601.60" stroke="#3a3a3a" stroke-width="1.0"/>
<line x1="119.00" y1="601.60" x2="122.20" y2="601.60" stroke="#3a3a3a" stroke-width="1.0"/>
<line x1="152.80" y1="555.50" x2="152.80" y2="543.40" stroke="#3a3a3a" stroke-width="1.0"/>
<line x1="151.20" y1="543.40" x2="154.40" y2="543.40" stroke="#3a3a3a" stroke-width="1.0"/>
<line x1="184.60" y1="623.40" x2="184.60" y2="612.60" stroke="#3a3a3a" stroke-width="1.0"/>
<line x1="183.00" y1="612.60" x2="186.20" y2="612.60" stroke="#3a3a3a" stroke-width="1.0"/>
<line x1="40.40" y1="526.40" x2="40.40" y2="641.50" stroke="#555555" stroke-width="1.35"/>
<line x1="39.80" y1="640.90" x2="201.20" y2="640.90" stroke="#555555" stroke-width="1.35"/>
<line x1="37.20" y1="640.90" x2="40.40" y2="640.90" stroke="#3a3a3a" stroke-width="1.1"/>
<text transform="translate(37.20,644.12) rotate(0.1)" font-size="9.0" text-anchor="end" fill="#262626" stroke="#262626" stroke-width="0.36" textLength="4.8" lengthAdjust="spacingAndGlyphs">0</text>
<line x1="37.20" y1="629.51" x2="40.40" y2="629.51" stroke="#3a3a3a" stroke-width="1.1"/>
<text transform="translate(37.20,632.73) rotate(0.1)" font-size="9.0" text-anchor="end" fill="#262626" stroke="#262626" stroke-width="0.36" textLength="12.0" lengthAdjust="spacingAndGlyphs">0.1</text>
<line x1="37.20" y1="618.12" x2="40.40" y2="618.12" stroke="#3a3a3a" stroke-width="1.1"/>
<text transform="translate(37.20,621.34) rotate(0.1)" font-size="9.0" text-anchor="end" fill="#262626" stroke="#262626" stroke-width="0.36" textLength="12.0" lengthAdjust="spacingAndGlyphs">0.2</text>
<line x1="37.20" y1="606.73" x2="40.40" y2="606.73" stroke="#3a3a3a" stroke-width="1.1"/>
<text transform="translate(37.20,609.95) rotate(0.1)" font-size="9.0" text-anchor="end" fill="#262626" stroke="#262626" stroke-width="0.36" textLength="12.0" lengthAdjust="spacingAndGlyphs">0.3</text>
<line x1="37.20" y1="595.34" x2="40.40" y2="595.34" stroke="#3a3a3a" stroke-width="1.1"/>
<text transform="translate(37.20,598.56) rotate(0.1)" font-size="9.0" text-anchor="end" fill="#262626" stroke="#262626" stroke-width="0.36" textLength="12.0" lengthAdjust="spacingAndGlyphs">0.4</text>
<line x1="37.20" y1="583.95" x2="40.40" y2="583.95" stroke="#3a3a3a" stroke-width="1.1"/>
<text transform="translate(37.20,587.17) rotate(0.1)" font-size="9.0" text-anchor="end" fill="#262626" stroke="#262626" stroke-width="0.36" textLength="12.0" lengthAdjust="spacingAndGlyphs">0.5</text>
<line x1="37.20" y1="572.56" x2="40.40" y2="572.56" stroke="#3a3a3a" stroke-width="1.1"/>
<text transform="translate(37.20,575.78) rotate(0.1)" font-size="9.0" text-anchor="end" fill="#262626" stroke="#262626" stroke-width="0.36" textLength="12.0" lengthAdjust="spacingAndGlyphs">0.6</text>
<line x1="37.20" y1="561.17" x2="40.40" y2="561.17" stroke="#3a3a3a" stroke-width="1.1"/>
<text transform="translate(37.20,564.39) rotate(0.1)" font-size="9.0" text-anchor="end" fill="#262626" stroke="#262626" stroke-width="0.36" textLength="12.0" lengthAdjust="spacingAndGlyphs">0.7</text>
<line x1="37.20" y1="549.78" x2="40.40" y2="549.78" stroke="#3a3a3a" stroke-width="1.1"/>
<text transform="translate(37.20,553.00) rotate(0.1)" font-size="9.0" text-anchor="end" fill="#262626" stroke="#262626" stroke-width="0.36" textLength="12.0" lengthAdjust="spacingAndGlyphs">0.8</text>
<line x1="37.20" y1="538.39" x2="40.40" y2="538.39" stroke="#3a3a3a" stroke-width="1.1"/>
<text transform="translate(37.20,541.61) rotate(0.1)" font-size="9.0" text-anchor="end" fill="#262626" stroke="#262626" stroke-width="0.36" textLength="12.0" lengthAdjust="spacingAndGlyphs">0.9</text>
<line x1="37.20" y1="527.00" x2="40.40" y2="527.00" stroke="#3a3a3a" stroke-width="1.1"/>
<text transform="translate(37.20,530.22) rotate(0.1)" font-size="9.0" text-anchor="end" fill="#262626" stroke="#262626" stroke-width="0.36" textLength="4.8" lengthAdjust="spacingAndGlyphs">1</text>
<line x1="73.00" y1="640.90" x2="73.00" y2="644.30" stroke="#3a3a3a" stroke-width="1.15"/>
<line x1="104.80" y1="640.90" x2="104.80" y2="644.30" stroke="#3a3a3a" stroke-width="1.15"/>
<line x1="136.60" y1="640.90" x2="136.60" y2="644.30" stroke="#3a3a3a" stroke-width="1.15"/>
<line x1="168.60" y1="640.90" x2="168.60" y2="644.30" stroke="#3a3a3a" stroke-width="1.15"/>
<line x1="201.00" y1="640.90" x2="201.00" y2="644.30" stroke="#3a3a3a" stroke-width="1.15"/>
<text transform="translate(5.40,582.80) rotate(-90)" x="0" y="2.61" font-size="7.3" text-anchor="middle" fill="#262626" stroke="#262626" stroke-width="0.29" textLength="123.8" lengthAdjust="spacingAndGlyphs">³H-Thymidine incorporation in</text>
<text transform="translate(18.00,584.00) rotate(-90)" x="0" y="2.90" font-size="8.1" text-anchor="middle" fill="#262626" stroke="#262626" stroke-width="0.32" textLength="75.3" lengthAdjust="spacingAndGlyphs">relation to "DMSO"</text>
<text transform="translate(54.00,563.75) rotate(0.1)" font-size="7.6" text-anchor="middle" font-weight="bold" fill="#262626" stroke="#262626" stroke-width="0.76" stroke-linejoin="round">*</text>
<text transform="translate(59.00,563.75) rotate(0.1)" font-size="7.6" text-anchor="middle" font-weight="bold" fill="#262626" stroke="#262626" stroke-width="0.76" stroke-linejoin="round">*</text>
<text transform="translate(88.30,537.65) rotate(0.1)" font-size="7.6" text-anchor="middle" font-weight="bold" fill="#262626" stroke="#262626" stroke-width="0.76" stroke-linejoin="round">*</text>
<text transform="translate(118.00,586.55) rotate(0.1)" font-size="7.6" text-anchor="middle" font-weight="bold" fill="#262626" stroke="#262626" stroke-width="0.76" stroke-linejoin="round">*</text>
<text transform="translate(123.00,586.55) rotate(0.1)" font-size="7.6" text-anchor="middle" font-weight="bold" fill="#262626" stroke="#262626" stroke-width="0.76" stroke-linejoin="round">*</text>
<text transform="translate(120.50,580.48) rotate(0.1)" font-size="5.8" text-anchor="middle" font-weight="bold" fill="#4a4a4a" stroke="#4a4a4a" stroke-width="0.35" stroke-linejoin="round">*</text>
<text transform="translate(153.00,541.85) rotate(0.1)" font-size="7.6" text-anchor="middle" font-weight="bold" fill="#262626" stroke="#262626" stroke-width="0.76" stroke-linejoin="round">*</text>
<text transform="translate(182.00,590.35) rotate(0.1)" font-size="7.6" text-anchor="middle" font-weight="bold" fill="#262626" stroke="#262626" stroke-width="0.76" stroke-linejoin="round">*</text>
<text transform="translate(186.80,590.35) rotate(0.1)" font-size="7.6" text-anchor="middle" font-weight="bold" fill="#262626" stroke="#262626" stroke-width="0.76" stroke-linejoin="round">*</text>
<text transform="translate(182.90,583.78) rotate(0.1)" font-size="5.8" text-anchor="middle" font-weight="bold" fill="#4a4a4a" stroke="#4a4a4a" stroke-width="0.35" stroke-linejoin="round">*</text>
<text transform="translate(186.40,583.78) rotate(0.1)" font-size="5.8" text-anchor="middle" font-weight="bold" fill="#4a4a4a" stroke="#4a4a4a" stroke-width="0.35" stroke-linejoin="round">*</text>
<text transform="translate(55.40,650.85) rotate(0.1)" font-size="7.4" text-anchor="middle" fill="#262626" stroke="#262626" stroke-width="0.30" textLength="32.2" lengthAdjust="spacingAndGlyphs">100 nmol/L</text>
<text transform="translate(54.80,657.05) rotate(0.1)" font-size="7.4" text-anchor="middle" fill="#262626" stroke="#262626" stroke-width="0.30" textLength="22.8" lengthAdjust="spacingAndGlyphs">RG7388</text>
<text transform="translate(87.90,650.85) rotate(0.1)" font-size="7.4" text-anchor="middle" fill="#262626" stroke="#262626" stroke-width="0.30" textLength="23.1" lengthAdjust="spacingAndGlyphs">1 nmol/L</text>
<text transform="translate(87.90,657.05) rotate(0.1)" font-size="7.4" text-anchor="middle" fill="#262626" stroke="#262626" stroke-width="0.30" textLength="14.1" lengthAdjust="spacingAndGlyphs">tram.</text>
<text transform="translate(118.70,650.85) rotate(0.1)" font-size="7.4" text-anchor="middle" fill="#262626" stroke="#262626" stroke-width="0.30" textLength="23.1" lengthAdjust="spacingAndGlyphs">1 nmol/L</text>
<text transform="translate(118.70,657.05) rotate(0.1)" font-size="7.4" text-anchor="middle" fill="#262626" stroke="#262626" stroke-width="0.30" textLength="14.1" lengthAdjust="spacingAndGlyphs">tram.</text>
<text transform="translate(121.70,663.25) rotate(0.1)" font-size="7.4" text-anchor="middle" fill="#262626" stroke="#262626" stroke-width="0.30" textLength="35.5" lengthAdjust="spacingAndGlyphs">+100 nmol/L</text>
<text transform="translate(118.10,669.45) rotate(0.1)" font-size="7.4" text-anchor="middle" fill="#262626" stroke="#262626" stroke-width="0.30" textLength="22.8" lengthAdjust="spacingAndGlyphs">RG7388</text>
<text transform="translate(153.30,651.35) rotate(0.1)" font-size="7.4" text-anchor="middle" fill="#262626" stroke="#262626" stroke-width="0.30" textLength="30" lengthAdjust="spacingAndGlyphs">2.5 nmol/L</text>
<text transform="translate(153.30,657.55) rotate(0.1)" font-size="7.4" text-anchor="middle" fill="#262626" stroke="#262626" stroke-width="0.30" textLength="14.1" lengthAdjust="spacingAndGlyphs">tram.</text>
<text transform="translate(187.00,651.35) rotate(0.1)" font-size="7.4" text-anchor="middle" fill="#262626" stroke="#262626" stroke-width="0.30" textLength="30" lengthAdjust="spacingAndGlyphs">2.5 nmol/L</text>
<text transform="translate(187.00,657.55) rotate(0.1)" font-size="7.4" text-anchor="middle" fill="#262626" stroke="#262626" stroke-width="0.30" textLength="14.1" lengthAdjust="spacingAndGlyphs">tram.</text>
<text transform="translate(187.00,663.75) rotate(0.1)" font-size="7.4" text-anchor="middle" fill="#262626" stroke="#262626" stroke-width="0.30" textLength="36.2" lengthAdjust="spacingAndGlyphs">+ 100 nmol/L</text>
<text transform="translate(186.40,669.95) rotate(0.1)" font-size="7.4" text-anchor="middle" fill="#262626" stroke="#262626" stroke-width="0.30" textLength="22.8" lengthAdjust="spacingAndGlyphs">RG7388</text>
<rect x="202.60" y="562.80" width="4.10" height="4.10" fill="#fdfdfd" stroke="#383838" stroke-width="0.9"/>
<text transform="translate(210.00,567.81) rotate(0.1)" font-size="8.7" text-anchor="start" fill="#262626" stroke="#262626" stroke-width="0.35" textLength="34.6" lengthAdjust="spacingAndGlyphs">Expected</text>
<text transform="translate(210.90,576.71) rotate(0.1)" font-size="8.7" text-anchor="start" fill="#262626" stroke="#262626" stroke-width="0.35" textLength="34.3" lengthAdjust="spacingAndGlyphs">inhibition</text>
<rect x="202.40" y="585.80" width="4.10" height="3.90" fill="#707070" stroke="#383838" stroke-width="1.0"/>
<text transform="translate(210.00,589.21) rotate(0.1)" font-size="8.7" text-anchor="start" fill="#262626" stroke="#262626" stroke-width="0.35" textLength="36.2" lengthAdjust="spacingAndGlyphs">Observed</text>
<text transform="translate(210.90,598.11) rotate(0.1)" font-size="8.7" text-anchor="start" fill="#262626" stroke="#262626" stroke-width="0.35" textLength="34.3" lengthAdjust="spacingAndGlyphs">inhibition</text>
<text transform="translate(398.90,507.28) rotate(0.1)" font-size="8.6" text-anchor="middle" fill="#262626" font-weight="bold" stroke="#262626" stroke-width="0.39" textLength="95.5" lengthAdjust="spacingAndGlyphs">U87MG_IGFBP1 OE cells</text>
<rect x="326.30" y="580.70" width="16.20" height="60.50" fill="#808080" stroke="#444444" stroke-width="1.1"/>
<rect x="358.50" y="540.90" width="16.50" height="100.30" fill="#808080" stroke="#444444" stroke-width="1.1"/>
<rect x="390.80" y="593.30" width="16.20" height="47.90" fill="#eeeeee" stroke="#505050" stroke-width="1.0"/>
<rect x="390.80" y="620.40" width="16.20" height="20.80" fill="#808080" stroke="#444444" stroke-width="1.1"/>
<rect x="422.50" y="555.80" width="16.90" height="85.40" fill="#808080" stroke="#444444" stroke-width="1.1"/>
<rect x="454.80" y="600.50" width="16.60" height="40.70" fill="#eeeeee" stroke="#505050" stroke-width="1.0"/>
<rect x="454.80" y="631.10" width="16.60" height="10.10" fill="#808080" stroke="#444444" stroke-width="1.1"/>
<line x1="334.40" y1="580.70" x2="334.40" y2="568.40" stroke="#3a3a3a" stroke-width="1.0"/>
<line x1="332.80" y1="568.40" x2="336.00" y2="568.40" stroke="#3a3a3a" stroke-width="1.0"/>
<line x1="366.80" y1="540.90" x2="366.80" y2="533.00" stroke="#3a3a3a" stroke-width="1.0"/>
<line x1="365.20" y1="533.00" x2="368.40" y2="533.00" stroke="#3a3a3a" stroke-width="1.0"/>
<line x1="398.80" y1="620.40" x2="398.80" y2="615.20" stroke="#3a3a3a" stroke-width="1.0"/>
<line x1="397.30" y1="615.20" x2="400.30" y2="615.20" stroke="#3a3a3a" stroke-width="1.0"/>
<line x1="430.90" y1="555.80" x2="430.90" y2="552.40" stroke="#3a3a3a" stroke-width="1.0"/>
<line x1="429.40" y1="552.40" x2="432.40" y2="552.40" stroke="#3a3a3a" stroke-width="1.0"/>
<line x1="463.00" y1="631.10" x2="463.00" y2="628.40" stroke="#3a3a3a" stroke-width="1.0"/>
<line x1="461.50" y1="628.40" x2="464.50" y2="628.40" stroke="#3a3a3a" stroke-width="1.0"/>
<line x1="318.50" y1="525.60" x2="318.50" y2="641.80" stroke="#555555" stroke-width="1.35"/>
<line x1="317.90" y1="641.20" x2="479.60" y2="641.20" stroke="#555555" stroke-width="1.35"/>
<line x1="315.30" y1="641.20" x2="318.50" y2="641.20" stroke="#3a3a3a" stroke-width="1.1"/>
<text transform="translate(312.80,643.77) rotate(0.1)" font-size="9.4" text-anchor="end" fill="#262626" stroke="#262626" stroke-width="0.38" textLength="4.7" lengthAdjust="spacingAndGlyphs">0</text>
<line x1="315.30" y1="628.47" x2="318.50" y2="628.47" stroke="#3a3a3a" stroke-width="1.1"/>
<text transform="translate(312.80,631.04) rotate(0.1)" font-size="9.4" text-anchor="end" fill="#262626" stroke="#262626" stroke-width="0.38" textLength="11.7" lengthAdjust="spacingAndGlyphs">0.1</text>
<line x1="315.30" y1="615.74" x2="318.50" y2="615.74" stroke="#3a3a3a" stroke-width="1.1"/>
<text transform="translate(312.80,618.31) rotate(0.1)" font-size="9.4" text-anchor="end" fill="#262626" stroke="#262626" stroke-width="0.38" textLength="11.7" lengthAdjust="spacingAndGlyphs">0.2</text>
<line x1="315.30" y1="603.01" x2="318.50" y2="603.01" stroke="#3a3a3a" stroke-width="1.1"/>
<text transform="translate(312.80,605.58) rotate(0.1)" font-size="9.4" text-anchor="end" fill="#262626" stroke="#262626" stroke-width="0.38" textLength="11.7" lengthAdjust="spacingAndGlyphs">0.3</text>
<line x1="315.30" y1="590.28" x2="318.50" y2="590.28" stroke="#3a3a3a" stroke-width="1.1"/>
<text transform="translate(312.80,592.85) rotate(0.1)" font-size="9.4" text-anchor="end" fill="#262626" stroke="#262626" stroke-width="0.38" textLength="11.7" lengthAdjust="spacingAndGlyphs">0.4</text>
<line x1="315.30" y1="577.55" x2="318.50" y2="577.55" stroke="#3a3a3a" stroke-width="1.1"/>
<text transform="translate(312.80,580.12) rotate(0.1)" font-size="9.4" text-anchor="end" fill="#262626" stroke="#262626" stroke-width="0.38" textLength="11.7" lengthAdjust="spacingAndGlyphs">0.5</text>
<line x1="315.30" y1="564.82" x2="318.50" y2="564.82" stroke="#3a3a3a" stroke-width="1.1"/>
<text transform="translate(312.80,567.39) rotate(0.1)" font-size="9.4" text-anchor="end" fill="#262626" stroke="#262626" stroke-width="0.38" textLength="11.7" lengthAdjust="spacingAndGlyphs">0.6</text>
<line x1="315.30" y1="552.09" x2="318.50" y2="552.09" stroke="#3a3a3a" stroke-width="1.1"/>
<text transform="translate(312.80,554.66) rotate(0.1)" font-size="9.4" text-anchor="end" fill="#262626" stroke="#262626" stroke-width="0.38" textLength="11.7" lengthAdjust="spacingAndGlyphs">0.7</text>
<line x1="315.30" y1="539.36" x2="318.50" y2="539.36" stroke="#3a3a3a" stroke-width="1.1"/>
<text transform="translate(312.80,541.93) rotate(0.1)" font-size="9.4" text-anchor="end" fill="#262626" stroke="#262626" stroke-width="0.38" textLength="11.7" lengthAdjust="spacingAndGlyphs">0.8</text>
<line x1="315.30" y1="526.63" x2="318.50" y2="526.63" stroke="#3a3a3a" stroke-width="1.1"/>
<text transform="translate(312.80,529.20) rotate(0.1)" font-size="9.4" text-anchor="end" fill="#262626" stroke="#262626" stroke-width="0.38" textLength="11.7" lengthAdjust="spacingAndGlyphs">0.9</text>
<line x1="351.00" y1="641.20" x2="351.00" y2="644.60" stroke="#3a3a3a" stroke-width="1.15"/>
<line x1="383.10" y1="641.20" x2="383.10" y2="644.60" stroke="#3a3a3a" stroke-width="1.15"/>
<line x1="415.20" y1="641.20" x2="415.20" y2="644.60" stroke="#3a3a3a" stroke-width="1.15"/>
<line x1="447.30" y1="641.20" x2="447.30" y2="644.60" stroke="#3a3a3a" stroke-width="1.15"/>
<line x1="479.40" y1="641.20" x2="479.40" y2="644.60" stroke="#3a3a3a" stroke-width="1.15"/>
<text transform="translate(281.90,583.00) rotate(-90)" x="0" y="2.61" font-size="7.3" text-anchor="middle" fill="#262626" stroke="#262626" stroke-width="0.29" textLength="123.4" lengthAdjust="spacingAndGlyphs">³H-Thymidine incorporation in</text>
<text transform="translate(293.50,584.00) rotate(-90)" x="0" y="2.90" font-size="8.1" text-anchor="middle" fill="#262626" stroke="#262626" stroke-width="0.32" textLength="75.3" lengthAdjust="spacingAndGlyphs">relation to "DMSO"</text>
<text transform="translate(334.40,567.35) rotate(0.1)" font-size="7.6" text-anchor="middle" font-weight="bold" fill="#262626" stroke="#262626" stroke-width="0.76" stroke-linejoin="round">*</text>
<text transform="translate(366.60,530.35) rotate(0.1)" font-size="7.6" text-anchor="middle" font-weight="bold" fill="#262626" stroke="#262626" stroke-width="0.76" stroke-linejoin="round">*</text>
<text transform="translate(396.30,593.15) rotate(0.1)" font-size="7.6" text-anchor="middle" font-weight="bold" fill="#262626" stroke="#262626" stroke-width="0.76" stroke-linejoin="round">*</text>
<text transform="translate(401.10,593.15) rotate(0.1)" font-size="7.6" text-anchor="middle" font-weight="bold" fill="#262626" stroke="#262626" stroke-width="0.76" stroke-linejoin="round">*</text>
<text transform="translate(398.80,585.38) rotate(0.1)" font-size="5.8" text-anchor="middle" font-weight="bold" fill="#4a4a4a" stroke="#4a4a4a" stroke-width="0.35" stroke-linejoin="round">*</text>
<text transform="translate(428.60,551.65) rotate(0.1)" font-size="7.6" text-anchor="middle" font-weight="bold" fill="#262626" stroke="#262626" stroke-width="0.76" stroke-linejoin="round">*</text>
<text transform="translate(433.30,551.65) rotate(0.1)" font-size="7.6" text-anchor="middle" font-weight="bold" fill="#262626" stroke="#262626" stroke-width="0.76" stroke-linejoin="round">*</text>
<text transform="translate(460.60,599.65) rotate(0.1)" font-size="7.6" text-anchor="middle" font-weight="bold" fill="#262626" stroke="#262626" stroke-width="0.76" stroke-linejoin="round">*</text>
<text transform="translate(465.50,599.65) rotate(0.1)" font-size="7.6" text-anchor="middle" font-weight="bold" fill="#262626" stroke="#262626" stroke-width="0.76" stroke-linejoin="round">*</text>
<text transform="translate(459.80,592.08) rotate(0.1)" font-size="5.8" text-anchor="middle" font-weight="bold" fill="#4a4a4a" stroke="#4a4a4a" stroke-width="0.35" stroke-linejoin="round">*</text>
<text transform="translate(462.90,592.08) rotate(0.1)" font-size="5.8" text-anchor="middle" font-weight="bold" fill="#4a4a4a" stroke="#4a4a4a" stroke-width="0.35" stroke-linejoin="round">*</text>
<text transform="translate(466.00,592.08) rotate(0.1)" font-size="5.8" text-anchor="middle" font-weight="bold" fill="#4a4a4a" stroke="#4a4a4a" stroke-width="0.35" stroke-linejoin="round">*</text>
<text transform="translate(333.20,650.85) rotate(0.1)" font-size="7.4" text-anchor="middle" fill="#262626" stroke="#262626" stroke-width="0.30" textLength="32.2" lengthAdjust="spacingAndGlyphs">100 nmol/L</text>
<text transform="translate(332.60,657.05) rotate(0.1)" font-size="7.4" text-anchor="middle" fill="#262626" stroke="#262626" stroke-width="0.30" textLength="22.8" lengthAdjust="spacingAndGlyphs">RG7388</text>
<text transform="translate(365.70,650.85) rotate(0.1)" font-size="7.4" text-anchor="middle" fill="#262626" stroke="#262626" stroke-width="0.30" textLength="23.1" lengthAdjust="spacingAndGlyphs">1 nmol/L</text>
<text transform="translate(365.70,657.05) rotate(0.1)" font-size="7.4" text-anchor="middle" fill="#262626" stroke="#262626" stroke-width="0.30" textLength="14.1" lengthAdjust="spacingAndGlyphs">tram.</text>
<text transform="translate(397.00,650.85) rotate(0.1)" font-size="7.4" text-anchor="middle" fill="#262626" stroke="#262626" stroke-width="0.30" textLength="23.1" lengthAdjust="spacingAndGlyphs">1 nmol/L</text>
<text transform="translate(397.00,657.05) rotate(0.1)" font-size="7.4" text-anchor="middle" fill="#262626" stroke="#262626" stroke-width="0.30" textLength="14.1" lengthAdjust="spacingAndGlyphs">tram.</text>
<text transform="translate(400.00,663.25) rotate(0.1)" font-size="7.4" text-anchor="middle" fill="#262626" stroke="#262626" stroke-width="0.30" textLength="35.5" lengthAdjust="spacingAndGlyphs">+100 nmol/L</text>
<text transform="translate(396.40,669.45) rotate(0.1)" font-size="7.4" text-anchor="middle" fill="#262626" stroke="#262626" stroke-width="0.30" textLength="22.8" lengthAdjust="spacingAndGlyphs">RG7388</text>
<text transform="translate(431.20,651.35) rotate(0.1)" font-size="7.4" text-anchor="middle" fill="#262626" stroke="#262626" stroke-width="0.30" textLength="30" lengthAdjust="spacingAndGlyphs">2.5 nmol/L</text>
<text transform="translate(431.20,657.55) rotate(0.1)" font-size="7.4" text-anchor="middle" fill="#262626" stroke="#262626" stroke-width="0.30" textLength="14.1" lengthAdjust="spacingAndGlyphs">tram.</text>
<text transform="translate(465.20,651.35) rotate(0.1)" font-size="7.4" text-anchor="middle" fill="#262626" stroke="#262626" stroke-width="0.30" textLength="30" lengthAdjust="spacingAndGlyphs">2.5 nmol/L</text>
<text transform="translate(465.20,657.55) rotate(0.1)" font-size="7.4" text-anchor="middle" fill="#262626" stroke="#262626" stroke-width="0.30" textLength="14.1" lengthAdjust="spacingAndGlyphs">tram.</text>
<text transform="translate(465.20,663.75) rotate(0.1)" font-size="7.4" text-anchor="middle" fill="#262626" stroke="#262626" stroke-width="0.30" textLength="36.2" lengthAdjust="spacingAndGlyphs">+ 100 nmol/L</text>
<text transform="translate(464.60,669.95) rotate(0.1)" font-size="7.4" text-anchor="middle" fill="#262626" stroke="#262626" stroke-width="0.30" textLength="22.8" lengthAdjust="spacingAndGlyphs">RG7388</text>
<rect x="475.60" y="562.80" width="4.10" height="4.10" fill="#fdfdfd" stroke="#383838" stroke-width="0.9"/>
<text transform="translate(483.70,567.81) rotate(0.1)" font-size="8.7" text-anchor="start" fill="#262626" stroke="#262626" stroke-width="0.35" textLength="34.6" lengthAdjust="spacingAndGlyphs">Expected</text>
<text transform="translate(484.60,576.71) rotate(0.1)" font-size="8.7" text-anchor="start" fill="#262626" stroke="#262626" stroke-width="0.35" textLength="35.4" lengthAdjust="spacingAndGlyphs">inhibition</text>
<rect x="475.40" y="585.80" width="4.10" height="3.90" fill="#707070" stroke="#383838" stroke-width="1.0"/>
<text transform="translate(483.70,589.21) rotate(0.1)" font-size="8.7" text-anchor="start" fill="#262626" stroke="#262626" stroke-width="0.35" textLength="36.2" lengthAdjust="spacingAndGlyphs">Observed</text>
<text transform="translate(484.60,598.11) rotate(0.1)" font-size="8.7" text-anchor="start" fill="#262626" stroke="#262626" stroke-width="0.35" textLength="35.4" lengthAdjust="spacingAndGlyphs">inhibition</text>
</g>
</svg>
</body></html>
